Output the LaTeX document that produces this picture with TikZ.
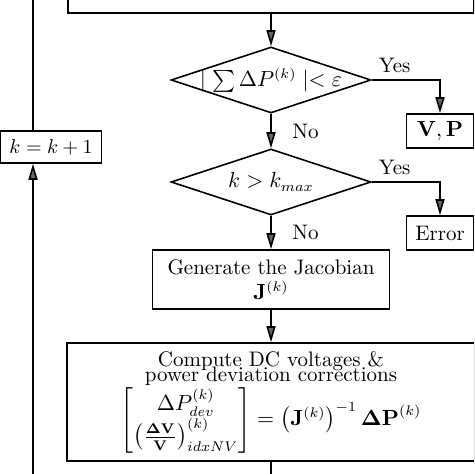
\documentclass[tikz,border=0pt]{standalone}
\usepackage{amsmath}
\usetikzlibrary{arrows.meta,shapes.geometric}

\begin{document}
\begin{tikzpicture}[x=0.5pt,y=-0.5pt,font=\fontsize{10.5}{12.6}\selectfont,
    box/.style={draw,thick,rectangle,align=center,inner sep=2pt},
    decision/.style={draw,thick,diamond,inner sep=-2.5pt,aspect=3,minimum width=100pt,minimum height=33pt},
    arr/.style={thick,-{Triangle[length=8pt,width=4.5pt,fill=black!60]}},
    line/.style={thick}]

  \useasboundingbox (0,0) rectangle (474,474);
  \clip (0,0) rectangle (474,474);

  \node (init) at (271,-29) [box,inner sep=0pt,minimum width=203pt,minimum height=42pt]
    {$\hspace{40pt}\left(\vphantom{\dfrac{1}{2}}\hspace{45pt}\right)\hspace{8pt}\left(\vphantom{\dfrac{1}{2}}\hspace{42pt}\right)$};
  \node (conv) at (271,80)    [decision] {$\mid\sum\Delta P^{(k)}\mid<\varepsilon$};
  \node (kmax) at (271,182)   [decision] {$k>k_{max}$};
  \node (vp)   at (440,131)   [box,minimum width=33.5pt,minimum height=17pt] {$\mathbf{V},\mathbf{P}$};
  \node (err)  at (440,233)   [box,minimum width=33.5pt,minimum height=17pt] {Error};
  \node (jac)  at (271,279.5) [box,minimum width=118.5pt,minimum height=29.5pt]
    {Generate the Jacobian\\ $\mathbf{J}^{(k)}$};
  \node (corr) at (271,402)   [box,minimum width=204pt,minimum height=59pt]
    {Compute DC voltages \&\\[-5pt] power deviation corrections\\
     $\begin{bmatrix}\Delta P^{(k)}_{dev}\\ \left(\frac{\mathbf{\Delta V}}{\mathbf{V}}\right)^{(k)}_{idxNV}\end{bmatrix}
      =\left(\mathbf{J}^{(k)}\right)^{-1}\mathbf{\Delta P}^{(k)}$};
  \node (kinc) at (51,147)    [box,font=\fontsize{10}{12}\selectfont,minimum width=50.5pt,minimum height=16pt] {$k=k+1$};

  \node (yes1) at (conv.east) [above right] {Yes};
  \node (yes2) at (kmax.east) [above right] {Yes};

  \coordinate (loopin)  at (33,480);
  \coordinate (loopout) at (33,-6);
  \coordinate (next)    at (271,480);

  \draw[arr] (init) -- (conv);
  \draw[arr] (conv) -- node (no1) [right=7pt] {No} (kmax);
  \draw[arr] (conv) -| (vp);
  \draw[arr] (kmax) -- node (no2) [right=7pt] {No} (jac);
  \draw[arr] (kmax) -| (err);
  \draw[arr] (jac) -- (corr);
  \draw[line] (corr) -- (next);
  \draw[arr] (loopin) -- (kinc.south -| loopin);
  \draw[line] (kinc.north -| loopout) -- (loopout);
\end{tikzpicture}
\end{document}
